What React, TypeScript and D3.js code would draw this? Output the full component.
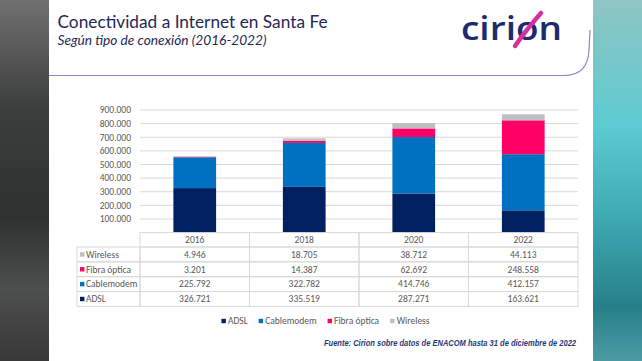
import React, { useEffect, useRef } from "react";
import * as d3 from "d3";

// datos del gráfico (ENACOM, Santa Fe)
const years = ["2016", "2018", "2020", "2022"];
const adsl = [326721, 335519, 287271, 163621];
const cablemodem = [225792, 322782, 414746, 412157];
const fibra = [3201, 14387, 62692, 248558];
const wireless = [4946, 18705, 38712, 44113];
const seriesNames = ["ADSL", "Cablemodem", "Fibra óptica", "Wireless"];
const seriesColors = ["#002060", "#0070C0", "#FF0066", "#BFBFBF"];
const yTicks = [100000, 200000, 300000, 400000, 500000, 600000, 700000, 800000, 900000];

const W = 642;
const H = 361;
const FONT = "Carlito, Lato, 'Open Sans', sans-serif";

const App = () => {
  const ref = useRef<SVGSVGElement>(null);

  useEffect(() => {
    const svg = d3.select(ref.current);
    svg.selectAll("*").remove();

    const es = d3.formatLocale({ decimal: ",", thousands: ".", grouping: [3], currency: ["", ""] });
    const fmt = es.format(",d");

    const values = [adsl, cablemodem, fibra, wireless];
    const rows = years.map((y, i) => {
      const r: any = { year: y };
      seriesNames.forEach((s, k) => (r[s] = values[k][i]));
      return r;
    });

    // fondo: bandas laterales
    const defs = svg.append("defs");
    const gl = defs.append("linearGradient").attr("id", "gl").attr("x1", 0).attr("y1", 0).attr("x2", 0).attr("y2", 1);
    [[0, "#707070"], [0.3, "#3c3d3d"], [0.6, "#2f3130"], [0.8, "#4d4f4e"], [1, "#383838"]].forEach(([o, c]) =>
      gl.append("stop").attr("offset", o as number).attr("stop-color", c as string)
    );
    const gr = defs.append("linearGradient").attr("id", "gr").attr("x1", 0).attr("y1", 0).attr("x2", 0).attr("y2", 1);
    [[0, "#8ec5c3"], [0.35, "#5ccbd2"], [0.6, "#3faab3"], [0.85, "#267f89"], [1, "#4c9ba4"]].forEach(([o, c]) =>
      gr.append("stop").attr("offset", o as number).attr("stop-color", c as string)
    );
    svg.append("rect").attr("width", W).attr("height", H).attr("fill", "#fff");
    svg.append("rect").attr("x", 0).attr("width", 49).attr("height", H).attr("fill", "url(#gl)");
    svg.append("rect").attr("x", 593).attr("width", W - 593).attr("height", H).attr("fill", "url(#gr)");

    // encabezado
    svg.append("text").attr("x", 57.5).attr("y", 28.3)
      .style("font-family", "Lato, sans-serif").style("font-size", "16.5px").attr("fill", "#1f2857")
      .attr("textLength", 270).attr("lengthAdjust", "spacingAndGlyphs")
      .text("Conectividad a Internet en Santa Fe");
    svg.append("text").attr("x", 57.5).attr("y", 44.5)
      .style("font-family", "Lato, sans-serif").style("font-size", "12.5px").style("font-style", "italic")
      .attr("fill", "#1f2857").attr("textLength", 209).attr("lengthAdjust", "spacingAndGlyphs")
      .text("Según tipo de conexión (2016-2022)");
    svg.append("path").attr("d", "M49,75.5 H564 Q588,75.5 589,50 L590,30")
      .attr("fill", "none").attr("stroke", "#8d88c8").attr("stroke-width", 1.2);

    // logo
    svg.append("text").attr("x", 461).attr("y", 40)
      .style("font-family", "'Open Sans', sans-serif").style("font-size", "32px").style("font-weight", 600)
      .attr("fill", "#1d2a6c").attr("textLength", 101).attr("lengthAdjust", "spacingAndGlyphs")
      .text("cirion");
    svg.append("path").attr("d", "M515,46 Q526,30 541,13")
      .attr("fill", "none").attr("stroke", "#d6309f").attr("stroke-width", 4.5).attr("stroke-linecap", "round");

    // escalas
    const x = d3.scaleBand().domain(years).range([140, 578]);
    const y = d3.scaleLinear().domain([0, 900000]).range([232.6, 110]);
    const bw = x.bandwidth() * 0.39;

    // grilla y etiquetas del eje
    svg.append("g").selectAll("line").data(yTicks).join("line")
      .attr("x1", 140).attr("x2", 578).attr("y1", (d) => y(d)).attr("y2", (d) => y(d))
      .attr("stroke", "#d9d9d9").attr("stroke-width", 1);
    svg.append("g").selectAll("text").data(yTicks).join("text")
      .attr("x", 131).attr("y", (d) => y(d)).attr("dy", "0.35em").attr("text-anchor", "end")
      .style("font-family", FONT).style("font-size", "9.5px").attr("fill", "#595959")
      .text((d) => fmt(d));

    // barras apiladas
    const stack = d3.stack().keys(seriesNames)(rows);
    svg.append("g").selectAll("g").data(stack).join("g")
      .attr("fill", (d, i) => seriesColors[i])
      .selectAll("rect").data((d) => d).join("rect")
      .attr("x", (d: any) => x(d.data.year)! + (x.bandwidth() - bw) / 2)
      .attr("width", bw)
      .attr("y", (d) => y(d[1]))
      .attr("height", (d) => y(d[0]) - y(d[1]));

    // tabla de datos
    const tableRows = [3, 2, 1, 0];
    const rowH = 14.85;
    const headTop = 232.6;
    const bodyTop = 247;
    const left = 77;
    const tg = svg.append("g");
    const border = "#d9d9d9";
    // encabezado de años
    years.forEach((yr) => {
      tg.append("rect").attr("x", x(yr)).attr("y", headTop).attr("width", x.bandwidth()).attr("height", bodyTop - headTop)
        .attr("fill", "none").attr("stroke", border);
      tg.append("text").attr("x", x(yr)! + x.bandwidth() / 2).attr("y", (headTop + bodyTop) / 2).attr("dy", "0.35em")
        .attr("text-anchor", "middle").style("font-family", FONT).style("font-size", "9.5px").attr("fill", "#595959")
        .text(yr);
    });
    tableRows.forEach((k, r) => {
      const top = bodyTop + r * rowH;
      tg.append("rect").attr("x", left).attr("y", top).attr("width", 140 - left).attr("height", rowH)
        .attr("fill", "none").attr("stroke", border);
      tg.append("rect").attr("x", 80).attr("y", top + rowH / 2 - 2.2).attr("width", 4.4).attr("height", 4.4)
        .attr("fill", seriesColors[k]);
      tg.append("text").attr("x", 86).attr("y", top + rowH / 2).attr("dy", "0.35em")
        .style("font-family", FONT).style("font-size", "9.5px").attr("fill", "#595959").text(seriesNames[k]);
      years.forEach((yr, i) => {
        tg.append("rect").attr("x", x(yr)).attr("y", top).attr("width", x.bandwidth()).attr("height", rowH)
          .attr("fill", "none").attr("stroke", border);
        tg.append("text").attr("x", x(yr)! + x.bandwidth() / 2).attr("y", top + rowH / 2).attr("dy", "0.35em")
          .attr("text-anchor", "middle").style("font-family", FONT).style("font-size", "9.5px").attr("fill", "#595959")
          .text(fmt(values[k][i]));
      });
    });

    // leyenda
    const lg = svg.append("g");
    let cx = 0;
    seriesNames.forEach((s, i) => {
      const item = lg.append("g").attr("transform", `translate(${cx},0)`);
      item.append("rect").attr("x", 0).attr("y", -2.2).attr("width", 4.4).attr("height", 4.4).attr("fill", seriesColors[i]);
      const t = item.append("text").attr("x", 6.5).attr("dy", "0.35em")
        .style("font-family", FONT).style("font-size", "9.5px").attr("fill", "#595959").text(s);
      const tw = (t.node() as SVGTextElement).getComputedTextLength();
      cx += 6.5 + tw + 11;
    });
    const legW = cx - 11;
    lg.attr("transform", `translate(${325.5 - legW / 2},321)`);

    // fuente
    svg.append("text").attr("x", 576).attr("y", 346).attr("text-anchor", "end")
      .style("font-family", "'Liberation Sans', Arial, sans-serif").style("font-size", "9.5px")
      .style("font-style", "italic").style("font-weight", "bold").attr("fill", "#1f3a78")
      .attr("textLength", 252).attr("lengthAdjust", "spacingAndGlyphs")
      .text("Fuente: Cirion sobre datos de ENACOM hasta 31 de diciembre de 2022");

    return () => {
      d3.select(ref.current).selectAll("*").remove();
    };
  }, []);

  return (
    <div style={{ width: W, height: H }}>
      <style>{`body{margin:0;}`}</style>
      <svg ref={ref} width={W} height={H} style={{ display: "block" }}></svg>
    </div>
  );
};

export default App;
